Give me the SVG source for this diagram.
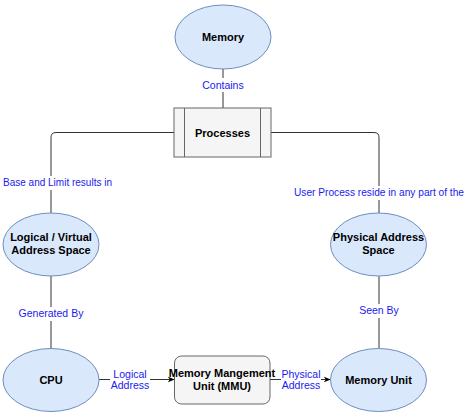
<svg xmlns="http://www.w3.org/2000/svg" width="474" height="420" viewBox="0 0 474 420">
<defs>
<style>
.ell{fill:#dae8fc;stroke:#6c8ebf;stroke-width:1}
.box{fill:#f5f5f5;stroke:#666666;stroke-width:1}
.nt{font-family:"Liberation Sans",Arial,sans-serif;font-size:11px;font-weight:bold;fill:#000;text-anchor:middle}
.lbl{font-family:"Liberation Sans",Arial,sans-serif;font-size:10.5px;fill:#1a1aee;text-anchor:middle}
.edge{fill:none;stroke:#333333;stroke-width:1}
.lbg{fill:#ffffff}
</style>
<marker id="arr" viewBox="0 0 10 10" refX="9" refY="5" markerWidth="7" markerHeight="7" orient="auto" markerUnits="userSpaceOnUse">
<path d="M0,1 L10,5 L0,9 L3,5 Z" fill="#000"/>
</marker>
</defs>
<rect width="474" height="420" fill="#ffffff"/>
<g id="connectors">
<path class="edge" d="M223,68 L223,108"/>
<path class="edge" d="M174,132.5 L56,132.5 Q51,132.5 51,137.5 L51,213"/>
<path class="edge" d="M271,132.5 L374,132.5 Q379,132.5 379,137.5 L379,213"/>
<path class="edge" d="M51,276 L51,348"/>
<path class="edge" d="M379,276 L379,348"/>
<path class="edge" d="M99,379.5 L174,379.5" marker-end="url(#arr)"/>
<path class="edge" d="M270,379.5 L330,379.5" marker-end="url(#arr)"/>
<rect class="lbg" x="201" y="78" width="44" height="14"/>
<text class="lbl" x="223" y="89">Contains</text>
<rect class="lbg" x="2" y="176" width="111" height="14"/>
<text class="lbl" x="57.5" y="186" textLength="109" lengthAdjust="spacingAndGlyphs">Base and Limit results in</text>
<rect class="lbg" x="293" y="186" width="172" height="14"/>
<text class="lbl" x="379" y="196" textLength="170" lengthAdjust="spacingAndGlyphs">User Process reside in any part of the</text>
<rect class="lbg" x="21" y="307" width="60" height="14"/>
<text class="lbl" x="51" y="317">Generated By</text>
<rect class="lbg" x="358" y="304" width="42" height="14"/>
<text class="lbl" x="379" y="314">Seen By</text>
<rect class="lbg" x="110" y="368" width="40" height="24"/>
<text class="lbl" x="130" y="378">Logical</text>
<text class="lbl" x="130" y="389">Address</text>
<rect class="lbg" x="281" y="368" width="40" height="24"/>
<text class="lbl" x="301" y="378">Physical</text>
<text class="lbl" x="301" y="389">Address</text>
</g>
<g id="memory">
<ellipse class="ell" cx="223" cy="37" rx="48" ry="32"/>
<text class="nt" x="223" y="41">Memory</text>
</g>
<g id="processes">
<rect class="box" x="174" y="108" width="97" height="49"/>
<line class="box" x1="184.5" y1="108" x2="184.5" y2="157"/>
<line class="box" x1="260.5" y1="108" x2="260.5" y2="157"/>
<text class="nt" x="222.5" y="136.5">Processes</text>
</g>
<g id="logical">
<ellipse class="ell" cx="51" cy="244.5" rx="48" ry="31.5"/>
<text class="nt" x="51" y="241">Logical / Virtual</text>
<text class="nt" x="51" y="254">Address Space</text>
</g>
<g id="physical">
<ellipse class="ell" cx="378.5" cy="244.5" rx="48" ry="31.5"/>
<text class="nt" x="378.5" y="241">Physical Address</text>
<text class="nt" x="378.5" y="254">Space</text>
</g>
<g id="cpu">
<ellipse class="ell" cx="51" cy="380" rx="48" ry="31.5"/>
<text class="nt" x="51" y="384">CPU</text>
</g>
<g id="mmu">
<rect class="box" x="174.5" y="356" width="95.5" height="48" rx="7" ry="7"/>
<text class="nt" x="222" y="377">Memory Mangement</text>
<text class="nt" x="222" y="390">Unit (MMU)</text>
</g>
<g id="memoryunit">
<ellipse class="ell" cx="378.5" cy="380" rx="48" ry="31.5"/>
<text class="nt" x="378.5" y="384">Memory Unit</text>
</g>
</svg>
